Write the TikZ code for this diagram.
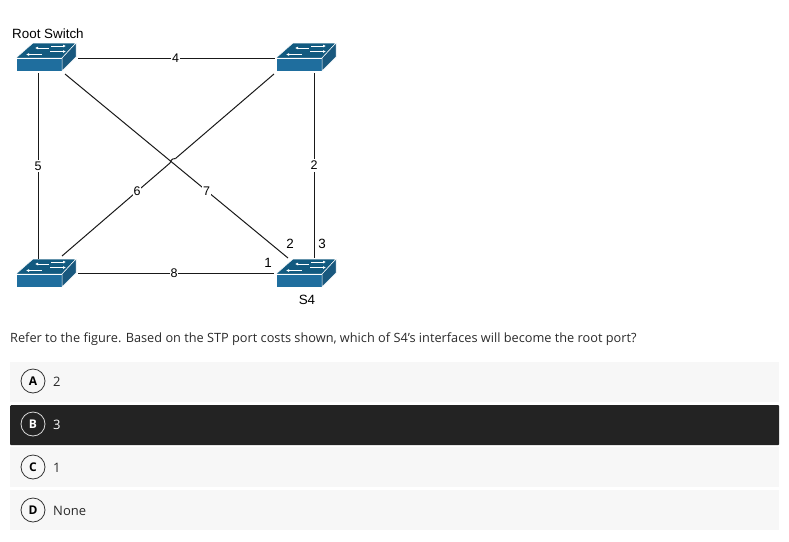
\documentclass[tikz,border=0pt]{standalone}
\usepackage{fontspec}
\setmainfont{Open Sans}
\newfontfamily\figfont{Liberation Sans}
\usetikzlibrary{arrows.meta}

\definecolor{swfront}{HTML}{1F6E9E}
\definecolor{swtop}{HTML}{125A80}
\definecolor{rowlight}{HTML}{F7F7F7}
\definecolor{rowdark}{HTML}{232323}
\definecolor{inktext}{HTML}{2A2A2A}

\tikzset{
	link/.style={black!90,line width=1pt},
	cost/.style={fill=white,inner xsep=0.8pt,inner ysep=2pt,font=\figfont\fontsize{12.5}{14}\selectfont,text=black},
	portlabel/.style={inner sep=0pt,font=\figfont\fontsize{13.4}{15}\selectfont,text=black},
	optrow/.style={anchor=north west,minimum width=769pt,minimum height=40pt,inner sep=0pt,fill=rowlight},
	optmark/.style={circle,draw=black!80,line width=0.8pt,minimum size=24pt,inner sep=0pt,font=\bfseries\fontsize{12}{14}\selectfont,text=black},
	opttext/.style={anchor=west,inner sep=0pt,font=\fontsize{13}{15}\selectfont,text=inktext},
	netswitch/.pic={
		\filldraw[swtop,draw=white,line width=0.5pt] (0,0) -- (17,-15) -- (60,-15) -- (46,0) -- cycle;
		\filldraw[swfront,draw=white,line width=0.5pt] (0,0) rectangle (46,13);
		\filldraw[swfront!80!black,draw=white,line width=0.5pt] (46,0) -- (60,-15) -- (60,-1) -- (46,13) -- cycle;
		\draw[white,line width=0.9pt,-{Latex[length=3pt,width=3pt]}] (33,-10) -- (19,-10);
		\draw[white,line width=0.9pt,-{Latex[length=3pt,width=3pt]}] (35,-12) -- (50,-12);
		\draw[white,line width=0.9pt,-{Latex[length=3pt,width=3pt]}] (34,-6.5) -- (50,-6.5);
		\draw[white,line width=0.9pt,-{Latex[length=3pt,width=3pt]}] (26,-3.5) -- (10,-3.5);
	}
}

\begin{document}
\begin{tikzpicture}[x=1pt,y=-1pt]
	\useasboundingbox (0,0) rectangle (789,541);

	\coordinate (Root) at (16,58);
	\coordinate (TopRight) at (276,58);
	\coordinate (BotLeft) at (16,274);
	\coordinate (S4) at (276,274);

	\pic at (Root) {netswitch};
	\pic at (TopRight) {netswitch};
	\pic at (BotLeft) {netswitch};
	\pic at (S4) {netswitch};

	\coordinate (RootE) at (78,58);
	\coordinate (RootS) at (38,73);
	\coordinate (RootD) at (65,74);
	\coordinate (TopW) at (275,58);
	\coordinate (TopS) at (314,73);
	\coordinate (TopD) at (274,74);
	\coordinate (BotN) at (38,259);
	\coordinate (BotD) at (62,256);
	\coordinate (BotE) at (78,273);
	\coordinate (S4W) at (274,273);
	\coordinate (S4N) at (314,258);
	\coordinate (S4D) at (288,258);
	\coordinate (HopA) at (170,163);
	\coordinate (HopB) at (175.5,158.5);

	\draw[link] (RootE) -- node[cost,inner ysep=0pt,pos=0.495] (c4) {4} (TopW);
	\draw[link] (RootS) -- node[cost] (c5) {5} (BotN);
	\draw[link] (TopS) -- node[cost] (c2) {2} (S4N);
	\draw[link] (BotE) -- node[cost,pos=0.49,inner ysep=0pt] (c8) {8} (S4W);
	\draw[link] (RootD) -- node[cost,pos=0.635] (c7) {7} (S4D);
	\draw[link] (BotD) -- node[cost,pos=0.695] (c6) {6} (HopA);
	\draw[link] (HopA) .. controls (171,159) and (174,158) .. (HopB);
	\draw[link] (HopB) -- (TopD);

	\node[portlabel,anchor=west] (rootlabel) at (12,33.5) {Root Switch};
	\node[portlabel] (s4label) at (307,300) {S4};
	\node[portlabel] (p1) at (268,263) {1};
	\node[portlabel] (p2) at (290,244) {2};
	\node[portlabel] (p3) at (322,244) {3};

	\node[anchor=west,inner sep=0pt,font=\fontsize{12.75}{15}\selectfont,text=inktext] (question) at (10,339) {Refer to the figure. Based on the STP port costs shown, which of S4's interfaces will become the root port?};

	\node[optrow] (rowA) at (10,362) {};
	\node[optrow,fill=rowdark,rounded corners=1pt] (rowB) at (10,405) {};
	\node[optrow] (rowC) at (10,447) {};
	\node[optrow] (rowD) at (10,490) {};

	\node[optmark] (markA) at (33,381) {A};
	\node[optmark,draw=white!85!black,text=white] (markB) at (33,424) {B};
	\node[optmark] (markC) at (33,467) {C};
	\node[optmark] (markD) at (33,510) {D};

	\node[opttext] (textA) at (53,381.5) {2};
	\node[opttext,text=white] (textB) at (53,424.5) {3};
	\node[opttext] (textC) at (53,467.5) {1};
	\node[opttext] (textD) at (53,510.5) {None};
\end{tikzpicture}
\end{document}
